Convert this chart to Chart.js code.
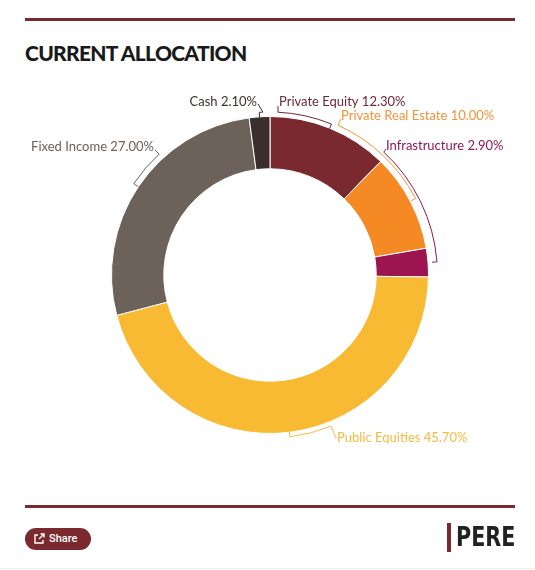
<!DOCTYPE html>
<html>
<head>
<meta charset="utf-8">
<script src="https://cdn.jsdelivr.net/npm/chart.js@4/dist/chart.umd.min.js"></script>
<style>
  html, body { margin: 0; padding: 0; background: #fff; }
  body { width: 535px; height: 570px; position: relative; overflow: hidden; font-family: Lato, sans-serif; }
  .rule { position: absolute; left: 25px; width: 490px; height: 3px; background: #7a2a2e; }
  .title { position: absolute; left: 25px; top: 40px; font-family: Lato, sans-serif; font-weight: 900;
           font-size: 21px; color: #1a1a1a; letter-spacing: -0.7px; }
  #wrap { position: absolute; left: 0; top: 0; width: 535px; height: 570px; }
  .share { position: absolute; left: 25px; top: 528px; width: 66px; height: 22px; border-radius: 11px;
           background: #7a2a2e; color: #fff; font-family: Roboto, sans-serif; font-size: 11px; font-weight: 500;
           line-height: 22px; box-sizing: border-box; padding-left: 24px; }
  .share svg { position: absolute; left: 9px; top: 5px; }
  .logo { position: absolute; left: 447px; top: 523px; height: 29px; width: 4px; background: #7a2a2e; }
  .logo span { position: absolute; left: 9px; top: -3px; font-family: "DejaVu Sans", sans-serif;
               font-weight: bold; font-size: 27px; line-height: 33px; color: #222;
               transform-origin: 0 50%; white-space: nowrap; }
  .foot { position: absolute; left: 0; top: 568px; width: 535px; height: 1px; background: #eee; }
</style>
</head>
<body>
<div class="rule" style="top:18px"></div>
<div class="title">CURRENT ALLOCATION</div>
<div id="wrap"><canvas id="allocation"></canvas></div>
<div class="rule" style="top:505px"></div>
<div class="share">
  <svg width="11" height="11" viewBox="0 0 11 11" fill="none" stroke="#fff" stroke-width="1.4">
    <path d="M4 2H1v8h8V7"/><path d="M5 6l5-5M6.5 1H10v3.5"/>
  </svg>Share
</div>
<div class="logo"><span id="logoText">PERE</span></div>
<div class="foot"></div>

<script>
var categories = ["Private Equity", "Private Real Estate", "Infrastructure", "Public Equities", "Fixed Income", "Cash"];
var allocation = [12.30, 10.00, 2.90, 45.70, 27.00, 2.10];
var segmentColors = ["#7a2a2e", "#f58a25", "#9d1550", "#f8ba33", "#6c6259", "#3a2f2d"];
var labelColors = ["#6e2733", "#f5933a", "#8e1a56", "#f7b940", "#6c6259", "#3a302e"];

// where each label sits and where its bracket leaves the ring (degrees, clockwise from top)
var labelLayout = [
    { x: 279, y: 102, align: "left",  lx: 278, ly: 106, angle: 2.8,   r: 163 },
    { x: 341, y: 116, align: "left",  lx: 341, ly: 119, angle: 24.4,  r: 164.5 },
    { x: 386, y: 146, align: "left",  lx: 386, ly: 149, angle: 42.8,  r: 167.5 },
    { x: 337, y: 438, align: "left",  lx: 336, ly: 438, angle: 158,   r: 163 },
    { x: 154, y: 147, align: "right", lx: 155, ly: 150, angle: 317.5, r: 164 },
    { x: 257, y: 102, align: "right", lx: 258, ly: 104, angle: 357.5, r: 163 }
];

var bracketLabels = {
    id: "bracketLabels",
    afterDatasetsDraw: function (chart) {
        var ctx = chart.ctx;
        var meta = chart.getDatasetMeta(0);
        ctx.save();
        ctx.font = "13px Lato, sans-serif";
        ctx.textBaseline = "middle";
        ctx.lineWidth = 1;
        meta.data.forEach(function (arc, i) {
            var l = labelLayout[i];
            var cx = arc.x, cy = arc.y;
            var mid = (arc.startAngle + arc.endAngle) / 2;
            var a1 = (l.angle - 90) * Math.PI / 180;
            ctx.strokeStyle = labelColors[i];
            ctx.beginPath();
            ctx.moveTo(l.lx, l.ly);
            ctx.lineTo(cx + l.r * Math.cos(a1), cy + l.r * Math.sin(a1));
            ctx.arc(cx, cy, l.r, a1, mid, mid < a1);
            ctx.lineTo(cx + (l.r - 5) * Math.cos(mid), cy + (l.r - 5) * Math.sin(mid));
            ctx.stroke();

            ctx.fillStyle = labelColors[i];
            ctx.textAlign = l.align;
            ctx.fillText(categories[i] + " " + allocation[i].toFixed(2) + "%", l.x, l.y);
        });
        ctx.restore();
    }
};

var createChart = function () {
    var canvas = document.getElementById("allocation");

    var allocationChart = new Chart(canvas, {
        type: "doughnut",
        data: {
            labels: categories,
            datasets: [{
                data: allocation,
                backgroundColor: segmentColors,
                borderColor: "#fff",
                borderWidth: 1
            }]
        },
        options: {
            responsive: true,
            maintainAspectRatio: false,
            animation: false,
            cutout: "67%",
            layout: {
                padding: { left: 111, right: 106, top: 116, bottom: 136 }
            },
            plugins: {
                legend: { display: false },
                tooltip: { enabled: false }
            }
        },
        plugins: [bracketLabels]
    });
}

// squeeze the logo word to its condensed width
var logo = document.getElementById("logoText");
logo.style.transform = "scaleX(" + (59 / logo.offsetWidth) + ")";

createChart();
</script>
</body>
</html>
